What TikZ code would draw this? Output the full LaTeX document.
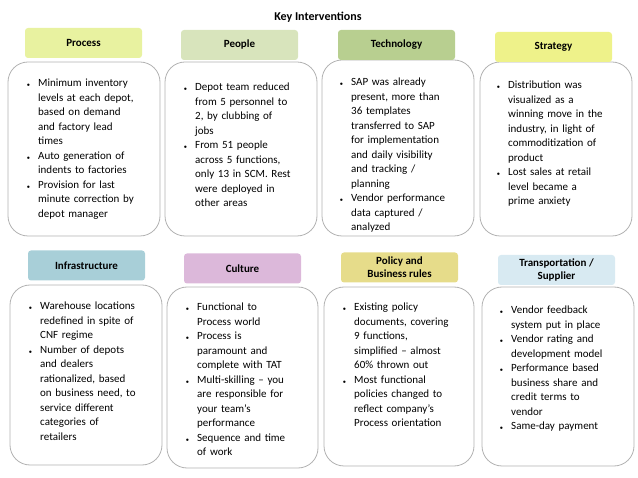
\documentclass[tikz,border=0pt]{standalone}
\usepackage{fontspec}
\setmainfont{Carlito}
\usepackage{enumitem}
\definecolor{procC}{HTML}{E8F2A0}
\definecolor{peopC}{HTML}{D8E4BC}
\definecolor{techC}{HTML}{B8CF90}
\definecolor{stratC}{HTML}{EEF28A}
\definecolor{infraC}{HTML}{A8CFD8}
\definecolor{cultC}{HTML}{DCB8DA}
\definecolor{polC}{HTML}{E6DC8A}
\definecolor{transC}{HTML}{D8EAF2}
\newcommand{\bodytext}[1]{\begin{itemize}[leftmargin=16pt,labelsep=8pt,itemsep=0pt,topsep=0pt,parsep=0pt,label={\tiny$\bullet$}]#1\end{itemize}}
\begin{document}
\begin{tikzpicture}[x=1pt,y=-1pt,font=\fontsize{11}{14.5}\selectfont]
\tikzset{
  headBox/.style={rectangle, rounded corners=3pt, minimum width=117pt, minimum height=30pt, align=center, inner sep=1pt, font=\fontsize{11}{13}\selectfont\bfseries},
  bodyBox/.style={draw=black!30, line width=0.8pt, rounded corners=20pt, fill=white},
  bodyText/.style={anchor=north west, text width=128pt, inner sep=0pt}
}
\useasboundingbox (0,0) rectangle (638,478);
\node[font=\fontsize{12}{14}\selectfont\bfseries](title) at (318,17){Key Interventions};

% row 1
\draw[bodyBox] (8,62) rectangle (160,236);
\draw[bodyBox] (165,62) rectangle (317,236);
\draw[bodyBox] (322,60) rectangle (474,236);
\draw[bodyBox] (480,62) rectangle (632,236);
\node[headBox, fill=procC](processHead) at (83.5,43){Process};
\node[headBox, fill=peopC](peopleHead) at (239.5,45){People};
\node[headBox, fill=techC](techHead) at (396.5,45){Technology};
\node[headBox, fill=stratC](strategyHead) at (553.5,47){Strategy};

\node[bodyText](processText) at (22,72){\bodytext{
  \item Minimum inventory\\levels at each depot,\\based on demand\\and factory lead\\times
  \item Auto generation of\\indents to factories
  \item Provision for last\\minute correction by\\depot manager}};
\node[bodyText](peopleText) at (179,76){\bodytext{
  \item Depot team reduced\\from 5 personnel to\\2, by clubbing of\\jobs
  \item From 51 people\\across 5 functions,\\only 13 in SCM. Rest\\were deployed in\\other areas}};
\node[bodyText](techText) at (335,71){\bodytext{
  \item SAP was already\\present, more than\\36 templates\\transferred to SAP\\for implementation\\and daily visibility\\and tracking /\\planning
  \item Vendor performance\\data captured /\\analyzed}};
\node[bodyText](strategyText) at (492,74){\bodytext{
  \item Distribution was\\visualized as a\\winning move in the\\industry, in light of\\commoditization of\\product
  \item Lost sales at retail\\level became a\\prime anxiety}};

% row 2
\draw[bodyBox] (10,285) rectangle (162,465);
\draw[bodyBox] (167,287) rectangle (318,468);
\draw[bodyBox] (324,287) rectangle (474,466);
\draw[bodyBox] (482,287) rectangle (634,466);
\node[headBox, fill=infraC](infraHead) at (86.5,265.5){Infrastructure};
\node[headBox, fill=cultC](cultureHead) at (242.5,268.5){Culture};
\node[headBox, fill=polC](policyHead) at (399.5,267.5){Policy and\\Business rules};
\node[headBox, fill=transC](transHead) at (556.5,270){Transportation /\\Supplier};

\node[bodyText](infraText) at (24,295){\bodytext{
  \item Warehouse locations\\redefined in spite of\\CNF regime
  \item Number of depots\\and dealers\\rationalized, based\\on business need, to\\service different\\categories of\\retailers}};
\node[bodyText](cultureText) at (181,296){\bodytext{
  \item Functional to\\Process world
  \item Process is\\paramount and\\complete with TAT
  \item Multi-skilling -- you\\are responsible for\\your team's\\performance
  \item Sequence and time\\of work}};
\node[bodyText](policyText) at (338,296){\bodytext{
  \item Existing policy\\documents, covering\\9 functions,\\simplified -- almost\\60\% thrown out
  \item Most functional\\policies changed to\\reflect company's\\Process orientation}};
\node[bodyText](transText) at (495,299){\bodytext{
  \item Vendor feedback\\system put in place
  \item Vendor rating and\\development model
  \item Performance based\\business share and\\credit terms to\\vendor
  \item Same-day payment}};
\end{tikzpicture}
\end{document}
